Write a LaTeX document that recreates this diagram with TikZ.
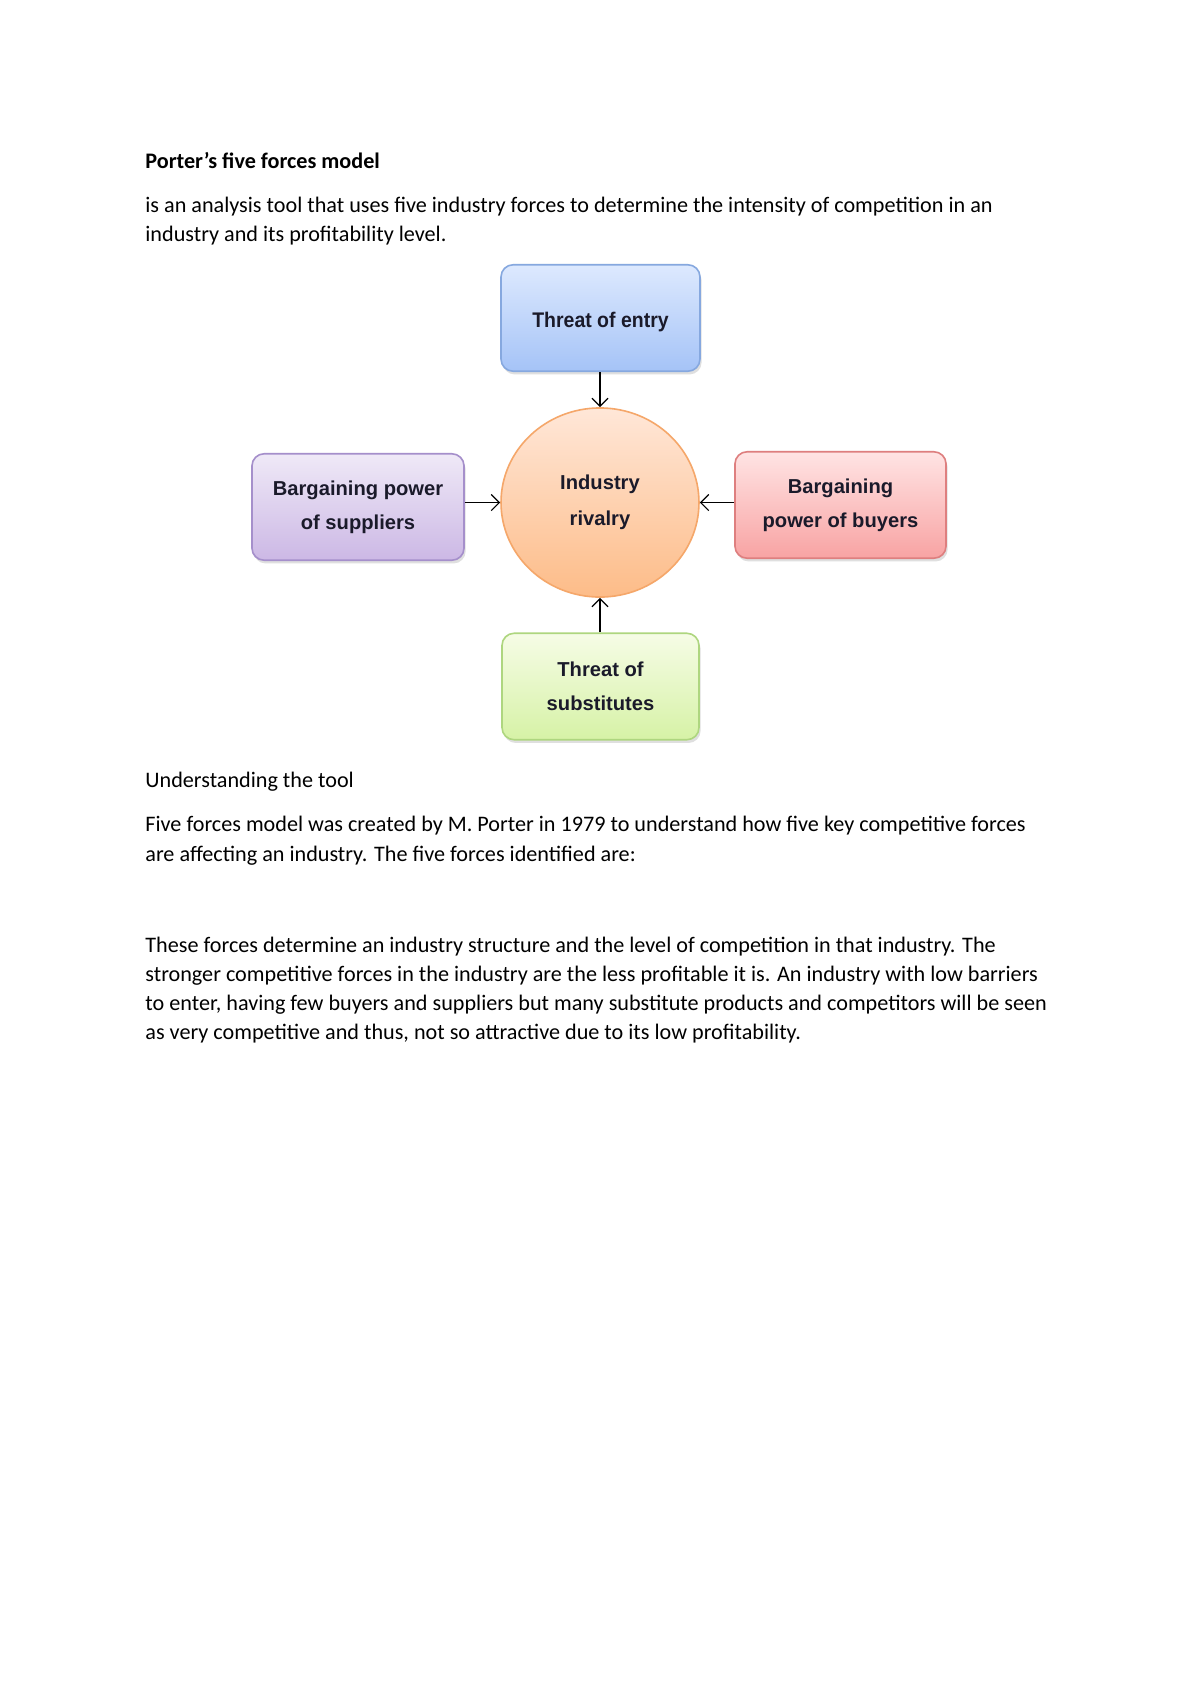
\documentclass[tikz,border=0pt]{standalone}
\usepackage{fontspec}
\setmainfont{Carlito}
\newfontfamily\diagfont{Liberation Sans}
\newfontfamily\diagfontc[FakeStretch=0.92]{Liberation Sans}
\usetikzlibrary{arrows.meta,shapes.geometric,shadows,shadings}
\definecolor{bluetop}{HTML}{DDE9FE}
\definecolor{bluebot}{HTML}{A5C3F7}
\definecolor{blueborder}{HTML}{86A8DF}
\definecolor{orangetop}{HTML}{FFE7D8}
\definecolor{orangebot}{HTML}{FDBC88}
\definecolor{orangeborder}{HTML}{F5A76A}
\definecolor{purpletop}{HTML}{EFE9F7}
\definecolor{purplebot}{HTML}{CCB8E5}
\definecolor{purpleborder}{HTML}{A58FCB}
\definecolor{redtop}{HTML}{FFE4E4}
\definecolor{redbot}{HTML}{F8A3A3}
\definecolor{redborder}{HTML}{DE7F7F}
\definecolor{greentop}{HTML}{F6FCE6}
\definecolor{greenbot}{HTML}{D6F2A6}
\definecolor{greenborder}{HTML}{AED67F}
\definecolor{forcetext}{HTML}{1A1A2A}
\begin{document}
\begin{tikzpicture}[x=0.49606pt,y=-0.49606pt,
  body/.style={anchor=base west,inner sep=0pt,font=\fontsize{11pt}{14.5pt}\selectfont},
  force/.style={draw=#1border,top color=#1top,bottom color=#1bot,
    rounded corners=6pt,line width=0.8pt,align=center,text=forcetext,
    font=\diagfont\bfseries\fontsize{10pt}{17pt}\selectfont,
    minimum height=52.8pt,inner sep=2pt,
    drop shadow={opacity=0.25,shadow xshift=0.8pt,shadow yshift=-1.6pt}},
  rivalry/.style={ellipse,draw=orangeborder,top color=orangetop,bottom color=orangebot,
    line width=0.8pt,align=center,text=forcetext,
    font=\diagfont\bfseries\fontsize{10pt}{18pt}\selectfont,
    minimum width=98.2pt,minimum height=93.8pt,inner sep=0pt},
  arr/.style={-{Straight Barb[length=4pt,width=8pt]},line width=0.6pt,black}]
\useasboundingbox (0,0) rectangle (1200,1698);
\fill[white] (0,0) rectangle (1200,1698);

% text above
\node[body,font=\fontsize{11pt}{14.5pt}\selectfont\bfseries] (title) at (145,168) {Porter’s five forces model};
\node[body] (p1a) at (145,212.2) {is an analysis tool that uses five industry forces to determine the intensity of competition in an};
\node[body] (p1b) at (145,241.5) {industry and its profitability level.};

% diagram
\node[force=blue,minimum width=98.7pt,font=\diagfontc\bfseries\fontsize{10.5pt}{17pt}\selectfont,
      text height=12pt,text depth=2.3pt] (entry) at (600.5,318) {Threat of entry};
\node[rivalry] (rival) at (600,502.5) {Industry\\rivalry};
\node[force=purple,minimum width=105.2pt] (supp) at (358,507) {Bargaining power\\of suppliers};
\node[force=red,minimum width=104.7pt] (buy) at (840.5,505) {Bargaining\\power of buyers};
\node[force=green,minimum width=97.7pt,font=\diagfont\bfseries\fontsize{10pt}{17pt}\selectfont] (subst) at (600.5,686.5) {Threat of\\substitutes};

\draw[arr] (entry.south -| rival.north) -- (rival.north);
\draw[arr] (subst.north -| rival.south) -- (rival.south);
\draw[arr] (supp.east |- rival.west) -- (rival.west);
\draw[arr] (buy.west |- rival.east) -- (rival.east);

% text below
\node[body] (h2) at (145,787.2) {Understanding the tool};
\node[body] (p2a) at (145,831.8) {Five forces model was created by M. Porter in 1979 to understand how five key competitive forces};
\node[body] (p2b) at (145,861) {are affecting an industry. The five forces identified are:};
\node[body] (p3a) at (145,952) {These forces determine an industry structure and the level of competition in that industry. The};
\node[body] (p3b) at (145,981.2) {stronger competitive forces in the industry are the less profitable it is. An industry with low barriers};
\node[body] (p3c) at (145,1010.5) {to enter, having few buyers and suppliers but many substitute products and competitors will be seen};
\node[body] (p3d) at (145,1039.7) {as very competitive and thus, not so attractive due to its low profitability.};
\end{tikzpicture}
\end{document}
